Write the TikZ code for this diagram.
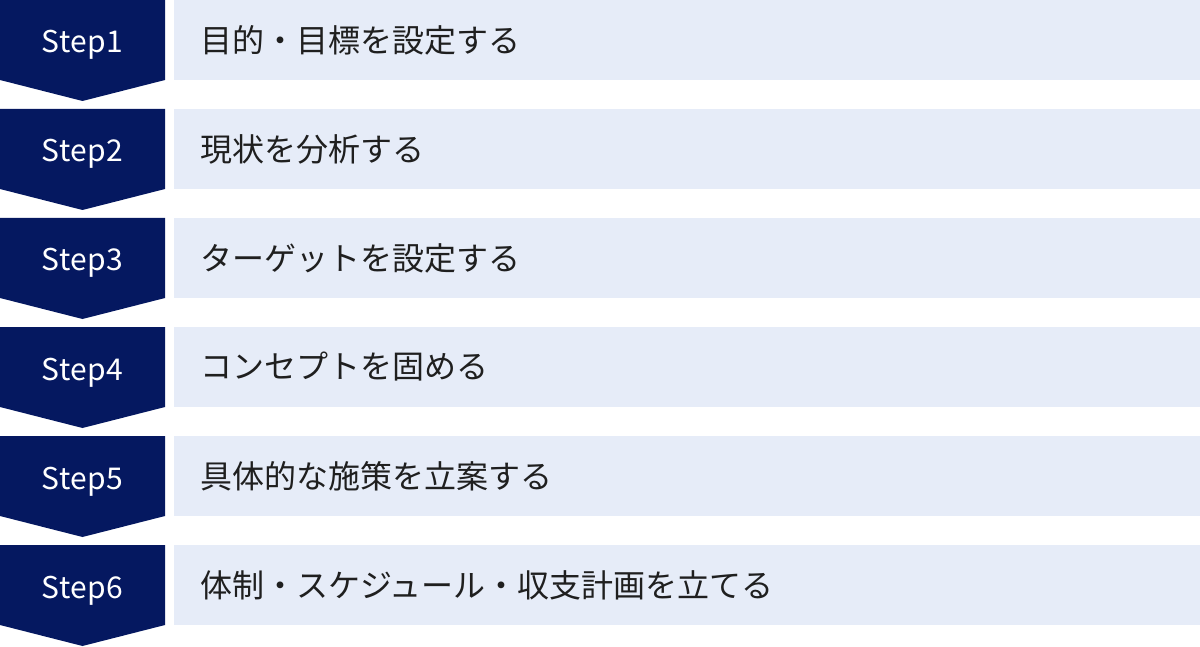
\documentclass[tikz,border=0pt]{standalone}
\usepackage{fontspec}
\setmainfont{Noto Sans CJK JP}
\usetikzlibrary{positioning}
\definecolor{navy}{RGB}{5,24,96}
\definecolor{paleblue}{RGB}{230,236,248}
\begin{document}
\begin{tikzpicture}[x=1pt,y=-1pt,
  steplabel/.style={text=white,inner sep=0pt,anchor=base,font=\fontsize{30}{34}\selectfont\addfontfeature{LetterSpace=2}},
  taskbox/.style={fill=paleblue,minimum width=1026pt,minimum height=80pt,anchor=north west,inner sep=0pt},
  tasktext/.style={anchor=west,inner sep=0pt,text=black!88,font=\fontsize{32}{38}\selectfont}]
\useasboundingbox (0,0) rectangle (1200,647);
\foreach \i/\task in {1/目的・目標を設定する,2/現状を分析する,3/ターゲットを設定する,4/コンセプトを固める,5/具体的な施策を立案する,6/体制・スケジュール・収支計画を立てる}{
  \pgfmathsetmacro\rowtop{(\i-1)*109}
  \fill[navy] (0,\rowtop) -- (165,\rowtop) -- (165,\rowtop+80) -- (82.5,\rowtop+101) -- (0,\rowtop+80) -- cycle;
  \node[steplabel] (step\i) at (82.5,\rowtop+53) {Step\i};
  \node[taskbox] (box\i) at (174,\rowtop) {};
  \node[tasktext] (task\i) at (200,\rowtop+40) {\task};
}
\end{tikzpicture}
\end{document}
